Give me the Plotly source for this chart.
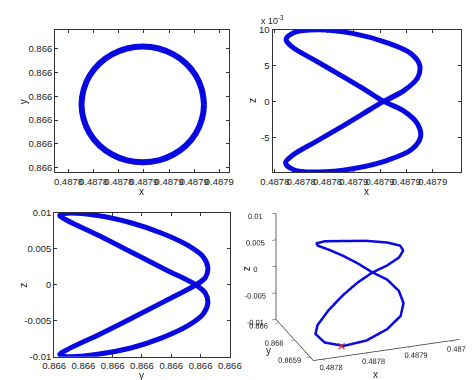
import plotly.graph_objects as go

# ---------------- data ----------------
# panel (a): x-y projection (closed loop, read every 15 degrees)
xy_x = [0.4879078, 0.4879061, 0.4879013, 0.4878935, 0.4878835, 0.4878717, 0.4878591,
        0.4878465, 0.4878347, 0.4878247, 0.4878169, 0.4878121, 0.4878104, 0.4878121,
        0.4878169, 0.4878247, 0.4878347, 0.4878465, 0.4878591, 0.4878717, 0.4878835,
        0.4878935, 0.4879013, 0.4879061, 0.4879078, 0.4879061]
xy_y = [0.8659866, 0.8659929, 0.8659988, 0.8660039, 0.8660077, 0.8660102, 0.8660110,
        0.8660102, 0.8660077, 0.8660039, 0.8659988, 0.8659929, 0.8659866, 0.8659803,
        0.8659744, 0.8659693, 0.8659655, 0.8659630, 0.8659622, 0.8659630, 0.8659655,
        0.8659693, 0.8659744, 0.8659803, 0.8659866, 0.8659929]

# panel (b): x-z projection (figure eight)
xz_x = [0.4878827, 0.4878976, 0.4879084, 0.4879101, 0.4879036, 0.4878856, 0.4878591,
        0.4878326, 0.4878146, 0.4878085, 0.4878134, 0.4878302, 0.4878495, 0.4878663,
        0.4878827, 0.4878976, 0.4879084, 0.4879108, 0.4879043, 0.4878856, 0.4878591,
        0.4878326, 0.4878146, 0.4878081, 0.4878134, 0.4878302, 0.4878495, 0.4878663,
        0.4878827, 0.4878976]
xz_z = [0.0, 0.00143, 0.00324, 0.00506, 0.00664, 0.00814, 0.00946,
        0.00996, 0.00959, 0.0086, 0.00755, 0.00574, 0.0037, 0.00188,
        0.0, -0.00129, -0.0031, -0.00492, -0.00664, -0.00819, -0.00936,
        -0.00982, -0.00955, -0.00855, -0.00751, -0.00569, -0.00365, -0.0018,
        0.0, 0.00143]

# panel (c): y-z projection
yz_y = [0.8660084, 0.8660116, 0.8660125, 0.8660109, 0.8660057, 0.8659970, 0.8659862,
        0.8659743, 0.8659645, 0.8659619, 0.8659645, 0.8659754, 0.8659873, 0.8659981,
        0.8660084, 0.8660116, 0.8660125, 0.8660109, 0.8660057, 0.8659970, 0.8659862,
        0.8659743, 0.8659645, 0.8659619, 0.8659645, 0.8659754, 0.8659873, 0.8659981,
        0.8660084, 0.8660116]
yz_z = [0.0, 0.00099, 0.00234, 0.00392, 0.0055, 0.00716, 0.00865,
        0.00969, 0.00998, 0.00969, 0.00896, 0.00685, 0.00437, 0.00212,
        0.0, -0.00112, -0.00247, -0.00405, -0.00568, -0.00734, -0.00878,
        -0.00969, -0.00998, -0.00969, -0.0090, -0.00689, -0.00446, -0.0022,
        0.0, 0.00099]

# panel (d): 3-D orbit
o_x = xz_x
o_y = [0.8660084, 0.8660014, 0.8659927, 0.8659840, 0.8659764, 0.8659687, 0.8659627,
       0.8659640, 0.8659754, 0.8659866, 0.8659942, 0.8660044, 0.8660111, 0.8660122,
       0.8660084, 0.8660024, 0.8659938, 0.8659850, 0.8659766, 0.8659687, 0.8659631,
       0.8659640, 0.8659761, 0.8659879, 0.8659957, 0.8660056, 0.8660113, 0.8660121,
       0.8660084, 0.8660014]
o_z = xz_z
start_x = [0.4878300]
start_y = [0.8659640]
start_z = [-0.00982]

# tick labels
x_ticks = [0.48780, 0.48782, 0.48784, 0.48786, 0.48788, 0.48790, 0.48792]
x_labels = ["0.4878", "0.4878", "0.4878", "0.4879", "0.4879", "0.4879", "0.4879"]
y1_ticks = [0.86596, 0.86597, 0.86598, 0.86599, 0.86600, 0.86601]
y1_labels = ["0.866"] * 6
z2_ticks = [-0.005, 0.0, 0.005, 0.01]
z2_labels = ["-5", "0", "5", "10"]
y3_ticks = [0.86596, 0.86597, 0.86598, 0.86599, 0.86600, 0.86601, 0.86602]
y3_labels = ["0.866"] * 7
z3_ticks = [-0.01, -0.005, 0.0, 0.005, 0.01]
z3_labels = ["-0.01", "-0.005", "0", "0.005", "0.01"]
x4_ticks = [0.48780, 0.48785, 0.48790, 0.48795]
x4_labels = ["0.4878", "0.4878", "0.4879", "0.4879"]
y4_ticks = [0.86595, 0.86600, 0.86605]
y4_labels = ["0.8659", "0.866", "0.866"]

# ---------------- figure ----------------
W, H = 474, 380
BLUE = "rgb(8,8,225)"
AX = "#333333"
FONT = "Arial"
FS = 9.5

fig = go.Figure()
fig.add_trace(go.Scatter(x=xy_x, y=xy_y, mode="lines", xaxis="x", yaxis="y",
                         line=dict(color=BLUE, width=6, shape="spline", smoothing=1.0)))
fig.add_trace(go.Scatter(x=xz_x, y=xz_z, mode="lines", xaxis="x2", yaxis="y2",
                         line=dict(color=BLUE, width=5, shape="spline", smoothing=1.0)))
fig.add_trace(go.Scatter(x=yz_y, y=yz_z, mode="lines", xaxis="x3", yaxis="y3",
                         line=dict(color=BLUE, width=5, shape="spline", smoothing=1.0)))
fig.add_trace(go.Scatter3d(x=o_x, y=o_y, z=o_z, mode="lines", scene="scene",
                           line=dict(color=BLUE, width=5)))
for sym in ["cross", "x"]:
    fig.add_trace(go.Scatter3d(x=start_x, y=start_y, z=start_z, mode="markers", scene="scene",
                               marker=dict(color="rgb(230,40,40)", size=1.5, symbol=sym)))


def ax2d(domain, rng, tv, tt, anchor):
    return dict(domain=domain, range=rng, tickvals=tv, ticktext=tt, anchor=anchor,
                showline=True, linecolor=AX, linewidth=1, mirror="ticks",
                ticks="inside", ticklen=3, tickcolor=AX, tickangle=0,
                showgrid=False, zeroline=False,
                tickfont=dict(size=FS, color="#222", family=FONT))


d1x = [37 / W, 220 / W]
d2x = [266 / W, 465 / W]
d3x = [36 / W, 221 / W]
dtop = [1 - 163 / H, 1 - 16 / H]
dbot = [1 - 353 / H, 1 - 205 / H]

sax = dict(showbackground=False, showgrid=False, zeroline=False, showline=True,
           linecolor=AX, linewidth=1.5, ticks="outside", ticklen=4, tickcolor=AX,
           showspikes=False, title=dict(text=""), tickangle=0,
           tickfont=dict(size=FS, color="#222", family=FONT))

fig.update_layout(
    width=W, height=H, margin=dict(l=0, r=0, t=0, b=0),
    paper_bgcolor="white", plot_bgcolor="white", showlegend=False,
    font=dict(family=FONT, size=FS, color="#222"),
    xaxis=ax2d(d1x, [0.4877894, 0.4879276], x_ticks, x_labels, "y"),
    yaxis=ax2d(dtop, [0.8659580, 0.8660182], y1_ticks, y1_labels, "x"),
    xaxis2=ax2d(d2x, [0.4877982, 0.4879419], x_ticks, x_labels, "y2"),
    yaxis2=ax2d(dtop, [-0.00986, 0.0100], z2_ticks, z2_labels, "x2"),
    xaxis3=ax2d(d3x, [0.86596, 0.86602], y3_ticks, y3_labels, "y3"),
    yaxis3=ax2d(dbot, [-0.01, 0.01], z3_ticks, z3_labels, "x3"),
    scene=dict(
        domain=dict(x=[0.5, 1.0], y=[0.02, 0.57]),
        bgcolor="rgba(0,0,0,0)",
        aspectmode="manual", aspectratio=dict(x=1.53, y=1.08, z=1.14),
        camera=dict(eye=dict(x=-0.594, y=-1.346, z=0.66), up=dict(x=0, y=0, z=1),
                    center=dict(x=-0.094, y=0.034, z=0.02),
                    projection=dict(type="orthographic")),
        xaxis=dict(sax, range=[0.487788, 0.48796], tickvals=x4_ticks, ticktext=x4_labels),
        yaxis=dict(sax, range=[0.86594, 0.86606], tickvals=y4_ticks, ticktext=y4_labels),
        zaxis=dict(sax, range=[-0.01, 0.01], tickvals=z3_ticks, ticktext=z3_labels),
    ),
)

ann = [
    (128, 183, "x", 0), (4, 90, "y", -90),
    (365, 183, "x", 0), (245, 89, "z", -90),
    (128, 372, "y", 0), (4, 279, "z", -90),
    (374, 371, "x", 0), (262, 347, "y", 0), (238, 262, "z", -90),
]
for px, py, t, ang in ann:
    fig.add_annotation(x=px / W, y=1 - py / H, xref="paper", yref="paper", text=t,
                       showarrow=False, textangle=ang, font=dict(size=10, color="#222"),
                       xanchor="center", yanchor="middle")
fig.add_annotation(x=252 / W, y=1 - 6 / H, xref="paper", yref="paper",
                   text="x 10<sup>-3</sup>", showarrow=False, xanchor="left", yanchor="middle",
                   font=dict(size=9, color="#222"))

fig.write_html("out.html")
